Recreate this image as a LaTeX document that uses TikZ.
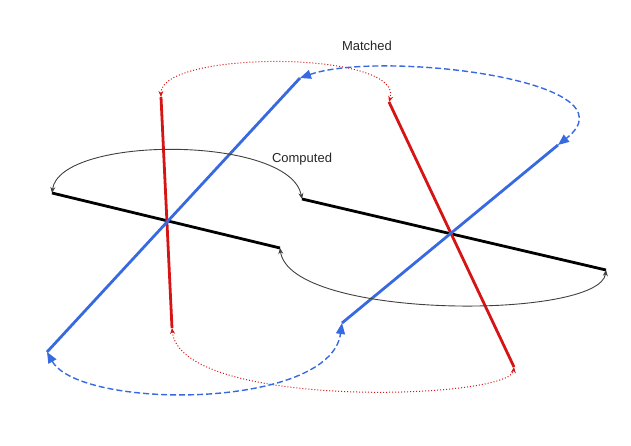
\documentclass[tikz,border=0pt]{standalone}
\usepackage{fontspec}
\setmainfont{Liberation Sans}
\usetikzlibrary{arrows.meta}
\definecolor{myblue}{RGB}{55,105,225}
\definecolor{myred}{RGB}{215,20,20}
\begin{document}
\begin{tikzpicture}[x=1pt,y=-1pt,
  seg/.style={line width=2.8pt},
  arcb/.style={black!75,line width=0.9pt,{Stealth[length=6pt,width=5pt]}-{Stealth[length=6pt,width=5pt]}},
  arcr/.style={myred,line width=1pt,dotted,{Stealth[length=6pt,width=5pt]}-{Stealth[length=6pt,width=5pt]}},
  arcu/.style={myblue,line width=1.4pt,dash pattern=on 6pt off 3pt,{Triangle[length=11pt,width=9pt]}-{Triangle[length=11pt,width=9pt]}},
  lab/.style={font=\fontsize{13}{15}\selectfont,text=black!85}]
\useasboundingbox (0,0) rectangle (631,446);
\coordinate (k1a) at (52,193); \coordinate (k1b) at (280,248);
\coordinate (k2a) at (302,199); \coordinate (k2b) at (606,270);
\coordinate (r1a) at (161,97); \coordinate (r1b) at (172,328);
\coordinate (r2a) at (389,102); \coordinate (r2b) at (514,367);
\coordinate (b1a) at (47,352); \coordinate (b1b) at (300,78);
\coordinate (b2a) at (342,323); \coordinate (b2b) at (558,145);
\draw[seg] (k1a) -- (k1b);
\draw[seg] (k2a) -- (k2b);
\draw[seg,myred] (r1a) -- (r1b);
\draw[seg,myred] (r2a) -- (r2b);
\draw[seg,myblue] (b1a) -- (b1b);
\draw[seg,myblue] (b2a) -- (b2b);
\draw[arcb] (k1a) .. controls (60,135) and (290,135) .. (k2a);
\draw[arcb] (k1b) .. controls (290,320) and (600,320) .. (k2b);
\draw[arcr] (r1a) .. controls (160,50) and (405,50) .. (r2a);
\draw[arcr] (r1b) .. controls (180,410) and (510,400) .. (r2b);
\draw[arcu] (b1b) .. controls (380,50) and (640,80) .. (b2b);
\draw[arcu] (b1a) .. controls (80,410) and (330,410) .. (b2a);
\node[lab] (matched) at (367,46) {Matched};
\node[lab] (computed) at (302,159) {Computed};
\end{tikzpicture}
\end{document}
